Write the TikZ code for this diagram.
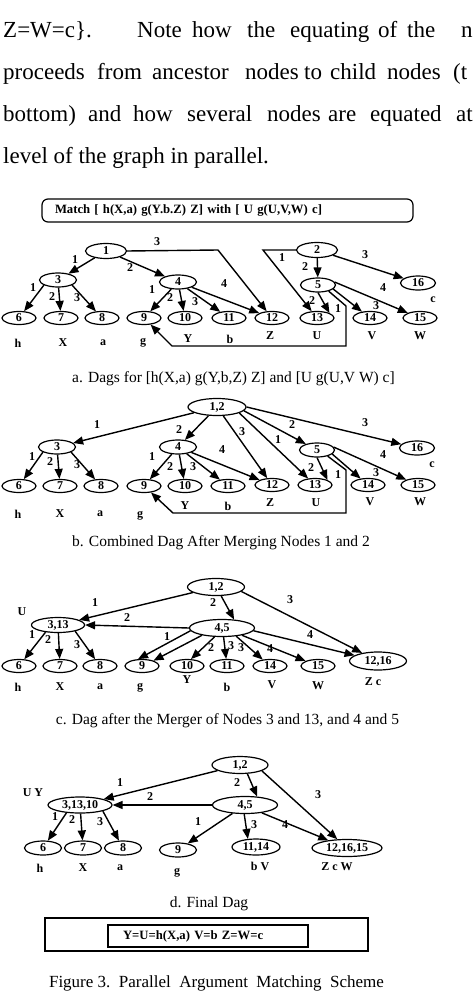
\documentclass[tikz,border=0pt]{standalone}
\usepackage{fontspec}
\setmainfont{Liberation Serif}
\usetikzlibrary{shapes.geometric,arrows.meta}
\newcommand\gfont{\fontsize{12}{12}\selectfont\bfseries}
\newcommand\txfont{\fontsize{23}{23}\selectfont}
\newcommand\cpfont{\fontsize{15.5}{15.5}\selectfont}
\newcommand\fgfont{\fontsize{17}{17}\selectfont}
\newcommand\bxfont{\fontsize{12.7}{12.7}\selectfont\bfseries}
\begin{document}
\begin{tikzpicture}[x=1pt,y=-1pt,
 nd/.style={ellipse,draw,line width=1.2pt,inner sep=0pt,font=\gfont},
 leaf/.style={nd,minimum width=34pt,minimum height=13pt},
 arr/.style={line width=1.4pt,-{Triangle[length=10pt,width=8pt]}},
 el/.style={font=\gfont,inner sep=0pt},
 tx/.style={font=\txfont,inner sep=0pt,anchor=base west},
 captext/.style={font=\cpfont,inner sep=0pt,anchor=base},
]
\useasboundingbox (0,0) rectangle (474,995);
\fill[white] (0,0) rectangle (474,995);

% ---------------- top text
\node[tx] (t11) at (3,38) {Z=W=c\}.};
\node[tx] (t12) at (137,38) {Note};
\node[tx] (t13) at (192,38) {how};
\node[tx] (t14) at (247,38) {the};
\node[tx] (t15) at (290,38) {equating};
\node[tx] (t16) at (378,38) {of};
\node[tx] (t17) at (407,38) {the};
\node[tx] (t18) at (461,38) {n};
\node[tx] (t21) at (3,80) {proceeds};
\node[tx] (t22) at (97,80) {from};
\node[tx] (t23) at (152,80) {ancestor};
\node[tx] (t24) at (245,80) {nodes};
\node[tx] (t25) at (304,80) {to};
\node[tx] (t26) at (330,80) {child};
\node[tx] (t27) at (387,80) {nodes};
\node[tx] (t28) at (453,80) {(t};
\node[tx] (t31) at (3,122) {bottom)};
\node[tx] (t32) at (88,122) {and};
\node[tx] (t33) at (133,122) {how};
\node[tx] (t34) at (187,122) {several};
\node[tx] (t35) at (267,122) {nodes};
\node[tx] (t36) at (328,122) {are};
\node[tx] (t37) at (370,122) {equated};
\node[tx] (t38) at (456,122) {at};
\node[tx] (t41) at (3,164) {level of the graph in parallel.};

% ---------------- panel a
\node[draw,rounded corners=6pt,line width=1.2pt,minimum height=23pt,text width=345pt,inner xsep=13pt,align=left,font=\bxfont] (mb) at (227.5,210.5) {Match [ h(X,a) g(Y.b.Z) Z] with [ U g(U,V,W) c]};

\node[nd,minimum width=41pt,minimum height=15pt] (a1) at (106,251) {1};
\node[nd,minimum width=41pt,minimum height=15pt] (a2) at (317,250) {2};
\node[nd,minimum width=37pt,minimum height=14pt] (a3) at (58,280) {3};
\node[nd,minimum width=37pt,minimum height=14pt] (a4) at (178,282) {4};
\node[nd,minimum width=35pt,minimum height=14pt] (a5) at (318,285) {5};
\node[nd,minimum width=35pt,minimum height=14pt] (a16) at (418,283) {16};
\node[leaf] (a6) at (19,318) {6};
\node[leaf] (a7) at (61,318) {7};
\node[leaf] (a8) at (102,318) {8};
\node[leaf] (a9) at (144,318) {9};
\node[leaf] (a10) at (185,318) {10};
\node[leaf] (a11) at (229,318) {11};
\node[leaf] (a12) at (272,318) {12};
\node[leaf] (a13) at (317,318) {13};
\node[leaf] (a14) at (370,318) {14};
\node[leaf] (a15) at (420,318) {15};

\node[el] (ah) at (18,343) {h};
\node[el] (aX) at (63,343) {X};
\node[el] (aa) at (103,343) {a};
\node[el] (ag) at (143,343) {g};
\node[el] (aY) at (188,339) {Y};
\node[el] (ab) at (230,339) {b};
\node[el] (aZ) at (270,336) {Z};
\node[el] (aU) at (317,336) {U};
\node[el] (aV) at (372,336) {V};
\node[el] (aW) at (420,336) {W};
\node[el] (ac) at (433,300) {c};

\coordinate (a1k) at (218,250);
\coordinate (a2k) at (263,250);
\coordinate (a5q) at (346,306);
\coordinate (a5r) at (346,346);
\coordinate (a5s) at (172,346);
\draw[arr] (a1) -- (a3);
\draw[arr] (a1) -- (a4);
\draw[arr] (a1.east) -- (a1k) -- (a12);
\draw[arr] (a2.west) -- (a2k) -- (a13);
\draw[arr] (a2) -- (a5);
\draw[arr] (a2) -- (a16);
\draw[arr] (a5.south) -- (a13.north east);
\draw[arr] (a5.-30) -- (a5q) -- (a5r) -- (a5s) -- (a9);
\draw[arr] (a5.-15) -- (a14);
\draw[arr] (a5.10) -- (a15);
\draw[arr] (a4) -- (a9);
\draw[arr] (a4) -- (a10);
\draw[arr] (a4) -- (a11);
\draw[arr] (a4) -- (a12);
\draw[arr] (a3.-160) -- (a6);
\draw[arr] (a3) -- (a7);
\draw[arr] (a3.-20) -- (a8);

\node[el] (la1) at (75,260) {1};
\node[el] (la2) at (130,268) {2};
\node[el] (la3) at (157,242) {3};
\node[el] (la4) at (152,290) {1};
\node[el] (la5) at (170,298) {2};
\node[el] (la6) at (195,302) {3};
\node[el] (la7) at (224,284) {4};
\node[el] (la8) at (33,288) {1};
\node[el] (la9) at (52,297) {2};
\node[el] (la10) at (77,298) {3};
\node[el] (la11) at (282,258) {1};
\node[el] (la12) at (305,267) {2};
\node[el] (la13) at (365,255) {3};
\node[el] (la14) at (312,301) {2};
\node[el] (la15) at (338,309) {1};
\node[el] (la16) at (376,306) {3};
\node[el] (la17) at (383,288) {4};

\node[captext] (capa) at (233.5,382) {a. Dags for [h(X,a) g(Y,b,Z) Z] and [U g(U,V W) c]};

% ---------------- panel b
\node[nd,minimum width=58pt,minimum height=17pt] (b0) at (217,407) {1,2};
\node[nd,minimum width=37pt,minimum height=14pt] (b3) at (57,447) {3};
\node[nd,minimum width=37pt,minimum height=14pt] (b4) at (178,447) {4};
\node[nd,minimum width=35pt,minimum height=14pt] (b5) at (317,450) {5};
\node[nd,minimum width=35pt,minimum height=14pt] (b16) at (417,448) {16};
\node[leaf] (b6) at (19,486) {6};
\node[leaf] (b7) at (60,486) {7};
\node[leaf] (b8) at (101,486) {8};
\node[leaf] (b9) at (144,486) {9};
\node[leaf] (b10) at (185,486) {10};
\node[leaf] (b11) at (228,486) {11};
\node[leaf] (b12) at (272,485) {12};
\node[leaf] (b13) at (315,485) {13};
\node[leaf] (b14) at (368,485) {14};
\node[leaf] (b15) at (418,485) {15};

\node[el] (bh) at (18,514) {h};
\node[el] (bX) at (60,514) {X};
\node[el] (ba) at (100,514) {a};
\node[el] (bg) at (140,516) {g};
\node[el] (bY) at (185,506) {Y};
\node[el] (bb) at (228,506) {b};
\node[el] (bZ) at (270,503) {Z};
\node[el] (bU) at (316,503) {U};
\node[el] (bV) at (370,502) {V};
\node[el] (bW) at (420,502) {W};
\node[el] (bc) at (432,465) {c};

\coordinate (b5q) at (346,470);
\coordinate (b5r) at (346,513);
\coordinate (b5s) at (173,513);
\draw[arr] (b0) -- (b3);
\draw[arr] (b0) -- (b4);
\draw[arr] (b0) -- (b12);
\draw[arr] (b0.-15) -- (b13);
\draw[arr] (b0.-8) -- (b5);
\draw[arr] (b0.east) -- (b16);
\draw[arr] (b4) -- (b12);
\draw[arr] (b4) -- (b9);
\draw[arr] (b4) -- (b10);
\draw[arr] (b4) -- (b11);
\draw[arr] (b3.-160) -- (b6);
\draw[arr] (b3) -- (b7);
\draw[arr] (b3.-20) -- (b8);
\draw[arr] (b5.south) -- (b13.north east);
\draw[arr] (b5.-30) -- (b5q) -- (b5r) -- (b5s) -- (b9);
\draw[arr] (b5.-15) -- (b14);
\draw[arr] (b5.10) -- (b15);

\node[el] (lb1) at (97,425) {1};
\node[el] (lb2) at (179,430) {2};
\node[el] (lb3) at (242,432) {3};
\node[el] (lb4) at (278,440) {1};
\node[el] (lb5) at (292,425) {2};
\node[el] (lb6) at (365,423) {3};
\node[el] (lb7) at (222,450) {4};
\node[el] (lb8) at (152,457) {1};
\node[el] (lb9) at (170,467) {2};
\node[el] (lb10) at (193,467) {3};
\node[el] (lb11) at (32,457) {1};
\node[el] (lb12) at (50,462) {2};
\node[el] (lb13) at (77,465) {3};
\node[el] (lb14) at (311,468) {2};
\node[el] (lb15) at (338,475) {1};
\node[el] (lb16) at (376,473) {3};
\node[el] (lb17) at (383,455) {4};

\node[captext] (capb) at (221,546) {b. Combined Dag After Merging Nodes 1 and 2};

% ---------------- panel c
\node[nd,minimum width=57pt,minimum height=17pt] (c0) at (216,587) {1,2};
\node[nd,minimum width=53pt,minimum height=15pt] (c313) at (58,625) {3,13};
\node[nd,minimum width=65pt,minimum height=17pt] (c45) at (222,628) {4,5};
\node[leaf] (c6) at (19,666) {6};
\node[leaf] (c7) at (60,666) {7};
\node[leaf] (c8) at (100,666) {8};
\node[leaf] (c9) at (142,666) {9};
\node[leaf] (c10) at (187,666) {10};
\node[leaf] (c11) at (227,666) {11};
\node[leaf] (c14) at (270,666) {14};
\node[leaf] (c15) at (318,666) {15};
\node[nd,minimum width=57pt,minimum height=18pt] (c1216) at (378,661) {12,16};

\node[el] (cU) at (22,612) {U};
\node[el] (ch) at (18,687) {h};
\node[el] (cX) at (60,687) {X};
\node[el] (ca) at (100,687) {a};
\node[el] (cg) at (140,688) {g};
\node[el] (cY) at (187,679.5) {Y};
\node[el] (cb) at (227,687) {b};
\node[el] (cV) at (272,685) {V};
\node[el] (cW) at (318,686) {W};
\node[el] (cZc) at (373,682) {Z c};

\draw[arr] (c0) -- (c313);
\draw[arr] (c0.-60) -- (c45.35);
\draw[arr] (c0.-10) -- (c1216);
\draw[arr] (c45.west) -- (c313.east);
\draw[arr] (c45.185) -- (c9.120);
\draw[arr] (c45.200) -- (c9.25);
\draw[arr] (c45.-130) -- (c10.60);
\draw[arr] (c45.-80) -- (c11);
\draw[arr] (c45.-30) -- (c14);
\draw[arr] (c45.-20) -- (c15);
\draw[arr] (c45.-5) -- (c1216);
\draw[arr] (c313.-150) -- (c6);
\draw[arr] (c313) -- (c7);
\draw[arr] (c313.-20) -- (c8);

\node[el] (lc1) at (95,603) {1};
\node[el] (lc2) at (213,603) {2};
\node[el] (lc3) at (290,600) {3};
\node[el] (lc4) at (127,618) {2};
\node[el] (lc5) at (167,637) {1};
\node[el] (lc6) at (211,648) {2};
\node[el] (lc7) at (231,646) {3};
\node[el] (lc8) at (241,648) {3};
\node[el] (lc9) at (270,649) {4};
\node[el] (lc10) at (310,635) {4};
\node[el] (lc11) at (32,635) {1};
\node[el] (lc12) at (48,640) {2};
\node[el] (lc13) at (77,645) {3};

\node[captext] (capc) at (227.5,724) {c. Dag after the Merger of Nodes 3 and 13, and 4 and 5};

% ---------------- panel d
\node[nd,minimum width=56pt,minimum height=17pt] (d0) at (240,765) {1,2};
\node[nd,minimum width=65pt,minimum height=17pt] (d45) at (245,805) {4,5};
\node[nd,minimum width=64pt,minimum height=16pt] (d3) at (80,805) {3,13,10};
\node[nd,minimum width=37pt,minimum height=14pt] (d6) at (43,848) {6};
\node[nd,minimum width=37pt,minimum height=14pt] (d7) at (83,848) {7};
\node[nd,minimum width=37pt,minimum height=14pt] (d8) at (123,848) {8};
\node[nd,minimum width=37pt,minimum height=14pt] (d9) at (178,850) {9};
\node[nd,minimum width=48pt,minimum height=16pt] (d1114) at (256,847) {11,14};
\node[nd,minimum width=70pt,minimum height=17pt] (d121615) at (347,848) {12,16,15};

\node[el] (dUY) at (33,793) {U Y};
\node[el] (dh) at (40,868) {h};
\node[el] (dX) at (83,868) {X};
\node[el] (da) at (120,868) {a};
\node[el] (dg) at (177,873) {g};
\node[el] (dbV) at (260,866) {b V};
\node[el] (dZcW) at (337,867) {Z c W};

\draw[arr] (d0) -- (d3);
\draw[arr] (d45.west) -- (d3.east);
\draw[arr] (d0.-50) -- (d45.35);
\draw[arr] (d0.-15) -- (d121615);
\draw[arr] (d45.-25) -- (d121615);
\draw[arr] (d45) -- (d9);
\draw[arr] (d45.-95) -- (d1114.135);
\draw[arr] (d3.-150) -- (d6);
\draw[arr] (d3) -- (d7);
\draw[arr] (d3.-15) -- (d8);

\node[el] (ld1) at (120,783) {1};
\node[el] (ld2) at (150,797) {2};
\node[el] (ld3) at (237,783) {2};
\node[el] (ld4) at (318,795) {3};
\node[el] (ld5) at (285,825) {4};
\node[el] (ld6) at (198,822) {1};
\node[el] (ld7) at (254,825) {3};
\node[el] (ld8) at (55,817) {1};
\node[el] (ld9) at (72,820) {2};
\node[el] (ld10) at (100,822) {3};

\node[captext] (capd) at (209,907) {d. Final Dag};

% ---------------- result box and figure caption
\node[draw,line width=1.4pt,minimum width=323pt,minimum height=33pt,inner sep=0pt] (ob) at (206.5,934.5) {};
\node[draw,line width=1.2pt,minimum height=22pt,text width=170pt,inner xsep=15pt,align=left,font=\bxfont] (ib) at (208,936) {Y=U=h(X,a) V=b Z=W=c};

\node[font=\fgfont,inner sep=0pt,anchor=base] (capf) at (216.5,987) {Figure 3.\ \ Parallel\ \ Argument\ \ Matching\ \ Scheme};
\end{tikzpicture}
\end{document}
